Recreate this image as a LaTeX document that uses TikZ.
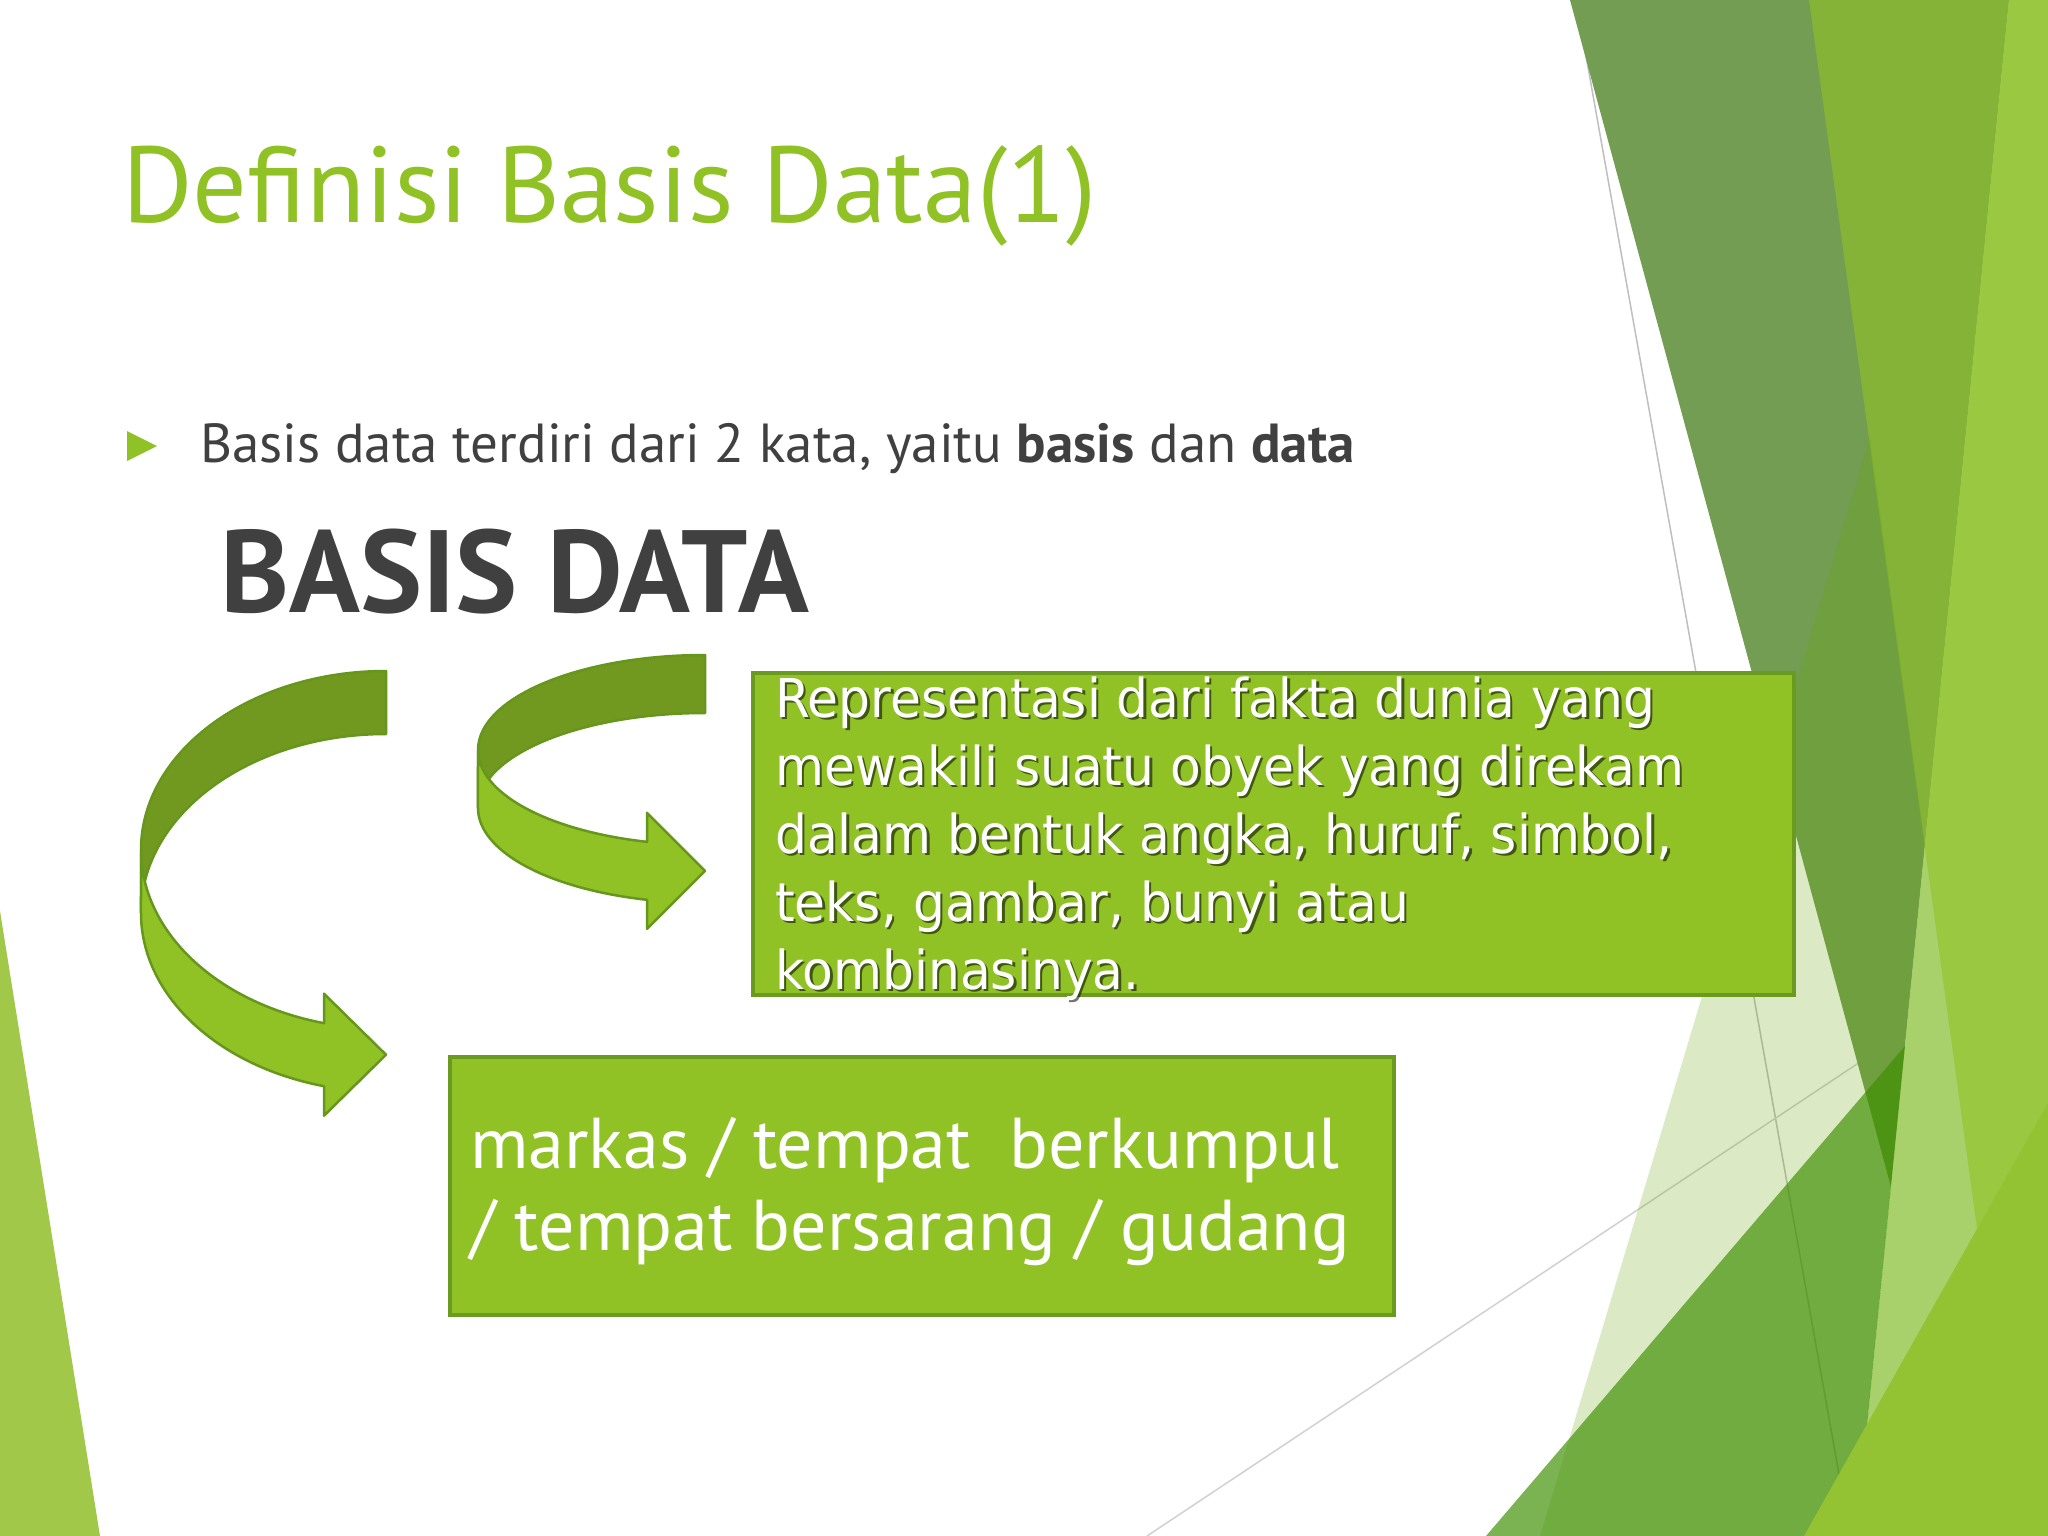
\documentclass[tikz,border=0pt]{standalone}
\usepackage{fontspec}
\setmainfont{PT Sans}
\newfontfamily\boxfont[FakeStretch=0.94]{DejaVu Sans}
\usetikzlibrary{positioning}
\definecolor{facetgreen}{HTML}{90C226}
\definecolor{arrowdark}{HTML}{71991F}
\definecolor{arrowline}{HTML}{66961C}
\definecolor{boxline}{HTML}{6A9A1F}
\definecolor{textgray}{HTML}{404040}
\definecolor{olive}{HTML}{739D52}
\definecolor{lightleaf}{HTML}{A9D16B}
\definecolor{paleleaf}{HTML}{6AA80A}
\definecolor{midleaf}{HTML}{3E8F00}
\definecolor{brightleaf}{HTML}{93C232}
\definecolor{sliver}{HTML}{A2C84A}

\begin{document}
\begin{tikzpicture}[x=1pt, y=-1pt,
    greenbox/.style={draw=boxline, fill=facetgreen, line width=3.5pt, inner sep=0pt, anchor=north west},
    arrowback/.style={draw=arrowline, fill=arrowdark, line width=2.5pt, line join=round},
    arrowfront/.style={draw=arrowline, fill=facetgreen, line width=2.5pt, line join=round},
    plaintext/.style={anchor=base west, inner sep=0pt, align=left},
    thinline/.style={line width=1.5pt}]
	\fill[white] (0,0) rectangle (2048,1536);
	\useasboundingbox (0,0) rectangle (2048,1536);

	\draw[thinline, color=black!25] (1576,0) -- (1850,1536);
	\draw[thinline, color=black!18] (1147,1536) -- (2048,937);
	\fill[sliver] (0,911) -- (100,1536) -- (0,1536) -- cycle;
	\fill[olive] (1570,0) -- (2009,0) -- (1891,1187) -- cycle;
	\fill[lightleaf] (2009,0) -- (2048,0) -- (2048,1536) -- (1856,1536) -- cycle;
	\fill[facetgreen, opacity=0.6] (1809,0) -- (2048,0) -- (2048,1536) -- (2019,1536) -- cycle;
	\fill[paleleaf, opacity=0.24] (1870,437) -- (1925,845) -- (1856,1536) -- (1540,1536) -- cycle;
	\fill[midleaf, opacity=0.68] (1486,1536) -- (1905,1046) -- (1856,1536) -- cycle;
	\fill[brightleaf] (1804,1536) -- (2048,1103) -- (2048,1536) -- cycle;

	\node[plaintext, text=facetgreen, font=\fontsize{108}{120}\selectfont] (title) at (122,222) {Definisi Basis Data(1)};
	\fill[facetgreen] (127,431) -- (157,446) -- (127,461) -- cycle;
	\node[plaintext, text=textgray, font=\fontsize{55}{60}\selectfont] (intro) at (200,462) {Basis data terdiri dari 2 kata, yaitu \textbf{basis} dan \textbf{data}};
	\node[plaintext, text=textgray, font=\bfseries\fontsize{117}{120}\selectfont] (basisdata) at (220,612) {BASIS DATA};

	\filldraw[arrowback] (386,671) arc[start angle=270, end angle=180, x radius=245, y radius=179] -- (141,913)
		arc[start angle=180, end angle=270, x radius=245, y radius=179] -- cycle;
	\filldraw[arrowfront] (141,850) arc[start angle=180, end angle=104.66, x radius=245, y radius=179]
		-- (324,993.7) -- (386,1054.7) -- (324,1115.7) -- (324,1086.2)
		arc[start angle=104.66, end angle=180, x radius=245, y radius=179] -- cycle;
	\filldraw[arrowback] (705,655) arc[start angle=270, end angle=180, x radius=227, y radius=95] -- (478,808)
		arc[start angle=180, end angle=270, x radius=227, y radius=95] -- cycle;
	\filldraw[arrowfront] (478,750) arc[start angle=180, end angle=104.8, x radius=227, y radius=95]
		-- (647,812.8) -- (705,870.8) -- (647,928.8) -- (647,899.8)
		arc[start angle=104.8, end angle=180, x radius=227, y radius=95] -- cycle;

	\node[greenbox, minimum width=1041pt, minimum height=322pt] (faktabox) at (751,671) {};
	\node[plaintext, text=black, opacity=0.55, font=\boxfont\fontsize{53.5}{68}\selectfont] (faktashadow) at (777.5,991.5)
		{Representasi dari fakta dunia yang\\mewakili suatu obyek yang direkam\\dalam bentuk angka, huruf, simbol,\\teks, gambar, bunyi atau\\kombinasinya.};
	\node[plaintext, text=white, font=\boxfont\fontsize{53.5}{68}\selectfont] (fakta) at (775,989)
		{Representasi dari fakta dunia yang\\mewakili suatu obyek yang direkam\\dalam bentuk angka, huruf, simbol,\\teks, gambar, bunyi atau\\kombinasinya.};

	\node[greenbox, minimum width=944pt, minimum height=258pt] (markasbox) at (448,1055) {};
	\node[plaintext, text=white, font=\fontsize{72}{82}\selectfont] (markas) at (470,1250)
		{markas / tempat\ \ berkumpul\\/ tempat bersarang / gudang};
\end{tikzpicture}
\end{document}
